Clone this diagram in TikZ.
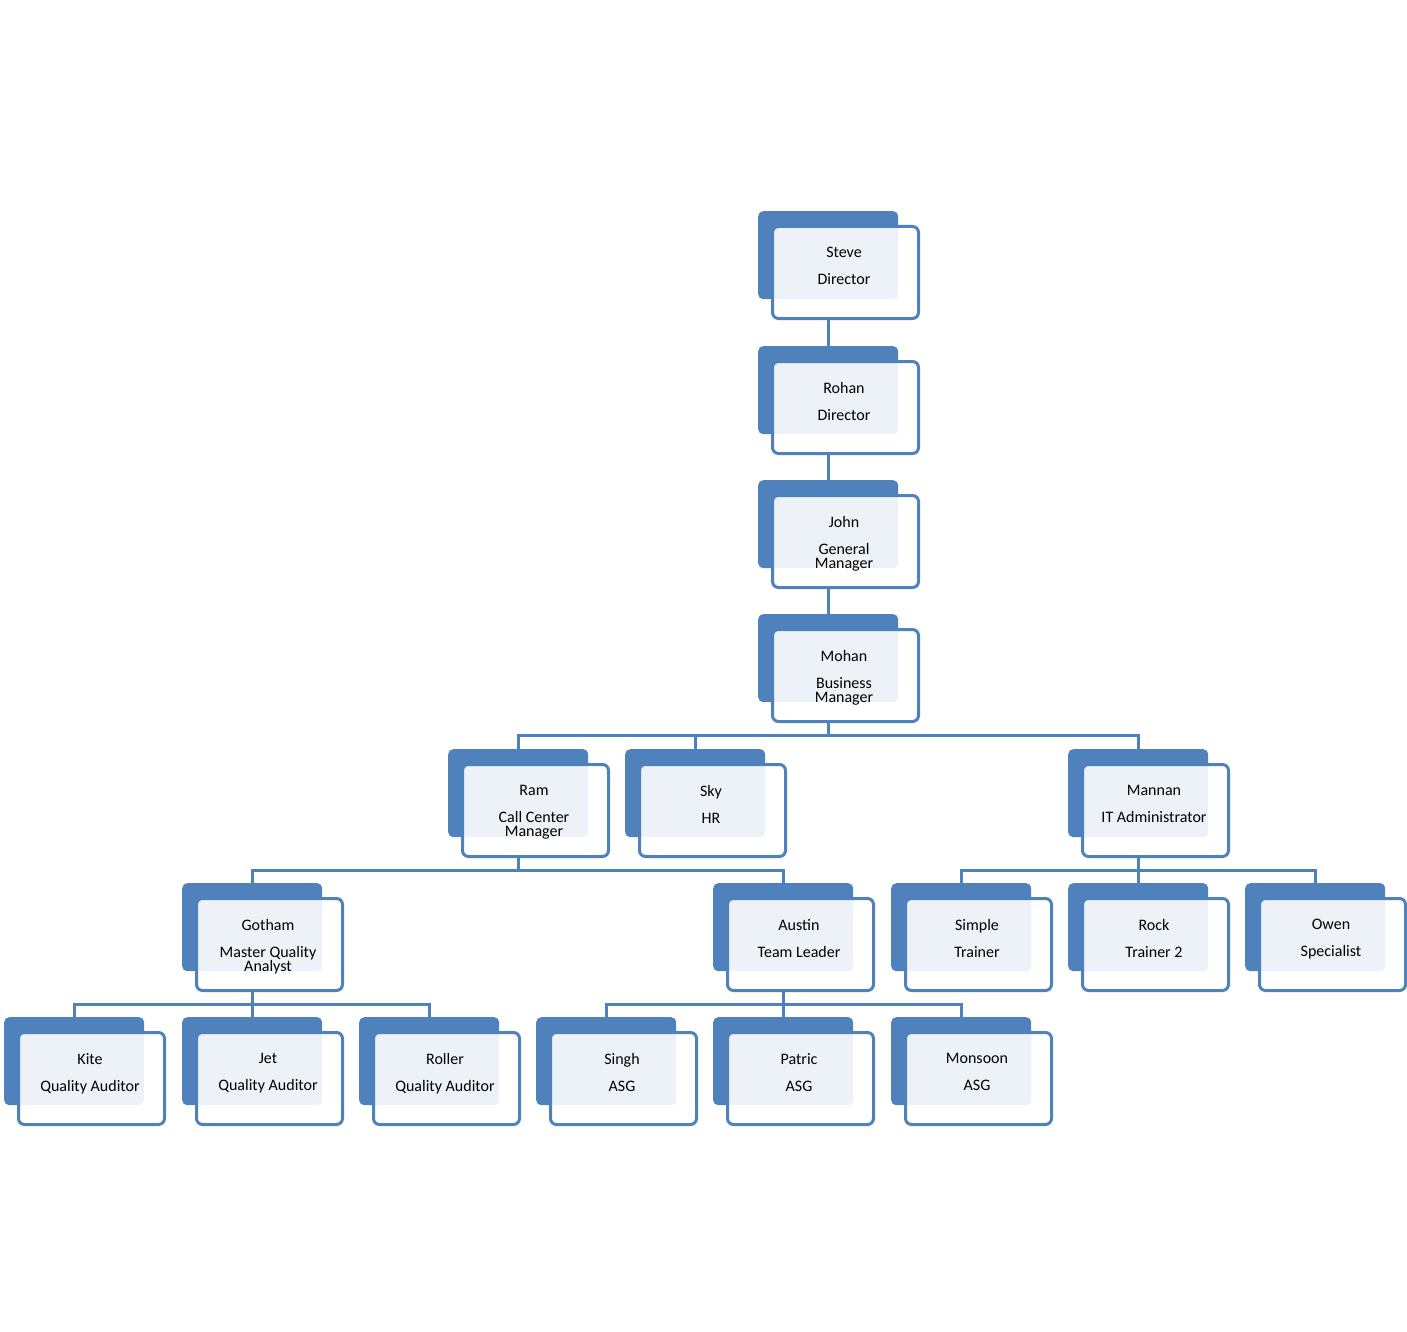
\documentclass[tikz,border=0pt]{standalone}
\usepackage{fontspec}
\setmainfont{Carlito}
\definecolor{orgblue}{RGB}{79,129,189}
\tikzset{
  backbox/.style={fill=orgblue, rounded corners=5pt, minimum width=140pt, minimum height=88pt, anchor=north west, inner sep=0pt},
  frontbox/.style={draw=orgblue, line width=3pt, fill=white, fill opacity=0.9, rounded corners=6pt, minimum width=146pt, minimum height=92pt, anchor=north west, inner sep=0pt},
  boxtext/.style={text=black, font=\fontsize{16}{14}\selectfont, align=center},
  link/.style={draw=orgblue, line width=3pt}
}
\newcommand{\orgbox}[5]{%
  \node[backbox] (#1-b) at (#2,#3) {};
  \node[frontbox] (#1) at (#2+13,#3+14) {};
  \node[boxtext, anchor=north] (#1-t) at (#2+86,#3+33) {#4\\[13pt]#5};
}
\begin{document}
\begin{tikzpicture}[x=1pt, y=-1pt]
\useasboundingbox (0,0) rectangle (1407,1332);

% boxes
\orgbox{steve}{758}{211}{Steve}{Director}
\orgbox{rohan}{758}{346}{Rohan}{Director}
\orgbox{john}{758}{480}{John}{General\\Manager}
\orgbox{mohan}{758}{614}{Mohan}{Business\\Manager}
\orgbox{ram}{448}{749}{Ram}{Call Center\\Manager}
\orgbox{sky}{625}{749}{Sky}{HR}
\orgbox{mannan}{1068}{749}{Mannan}{IT Administrator}
\orgbox{gotham}{182}{883}{Gotham}{Master Quality\\Analyst}
\orgbox{austin}{713}{883}{Austin}{Team Leader}
\orgbox{simple}{891}{883}{Simple}{Trainer}
\orgbox{rock}{1068}{883}{Rock}{Trainer 2}
\orgbox{owen}{1245}{883}{Owen}{Specialist}
\orgbox{kite}{4}{1017}{Kite}{Quality Auditor}
\orgbox{jet}{182}{1017}{Jet}{Quality Auditor}
\orgbox{roller}{359}{1017}{Roller}{Quality Auditor}
\orgbox{singh}{536}{1017}{Singh}{ASG}
\orgbox{patric}{713}{1017}{Patric}{ASG}
\orgbox{monsoon}{891}{1017}{Monsoon}{ASG}

% connectors
\draw[link] (steve-b |- steve.south) -- (rohan-b.north);
\draw[link] (rohan-b |- rohan.south) -- (john-b.north);
\draw[link] (john-b |- john.south) -- (mohan-b.north);
\foreach \c in {ram,sky,mannan}
  \draw[link] (mohan-b |- mohan.south) -- ++(0,12) -| (\c-b.north);
\foreach \c in {gotham,austin}
  \draw[link] (ram-b |- ram.south) -- ++(0,12) -| (\c-b.north);
\foreach \c in {simple,rock,owen}
  \draw[link] (mannan-b |- mannan.south) -- ++(0,12) -| (\c-b.north);
\foreach \c in {kite,jet,roller}
  \draw[link] (gotham-b |- gotham.south) -- ++(0,12) -| (\c-b.north);
\foreach \c in {singh,patric,monsoon}
  \draw[link] (austin-b |- austin.south) -- ++(0,12) -| (\c-b.north);

\end{tikzpicture}
\end{document}
